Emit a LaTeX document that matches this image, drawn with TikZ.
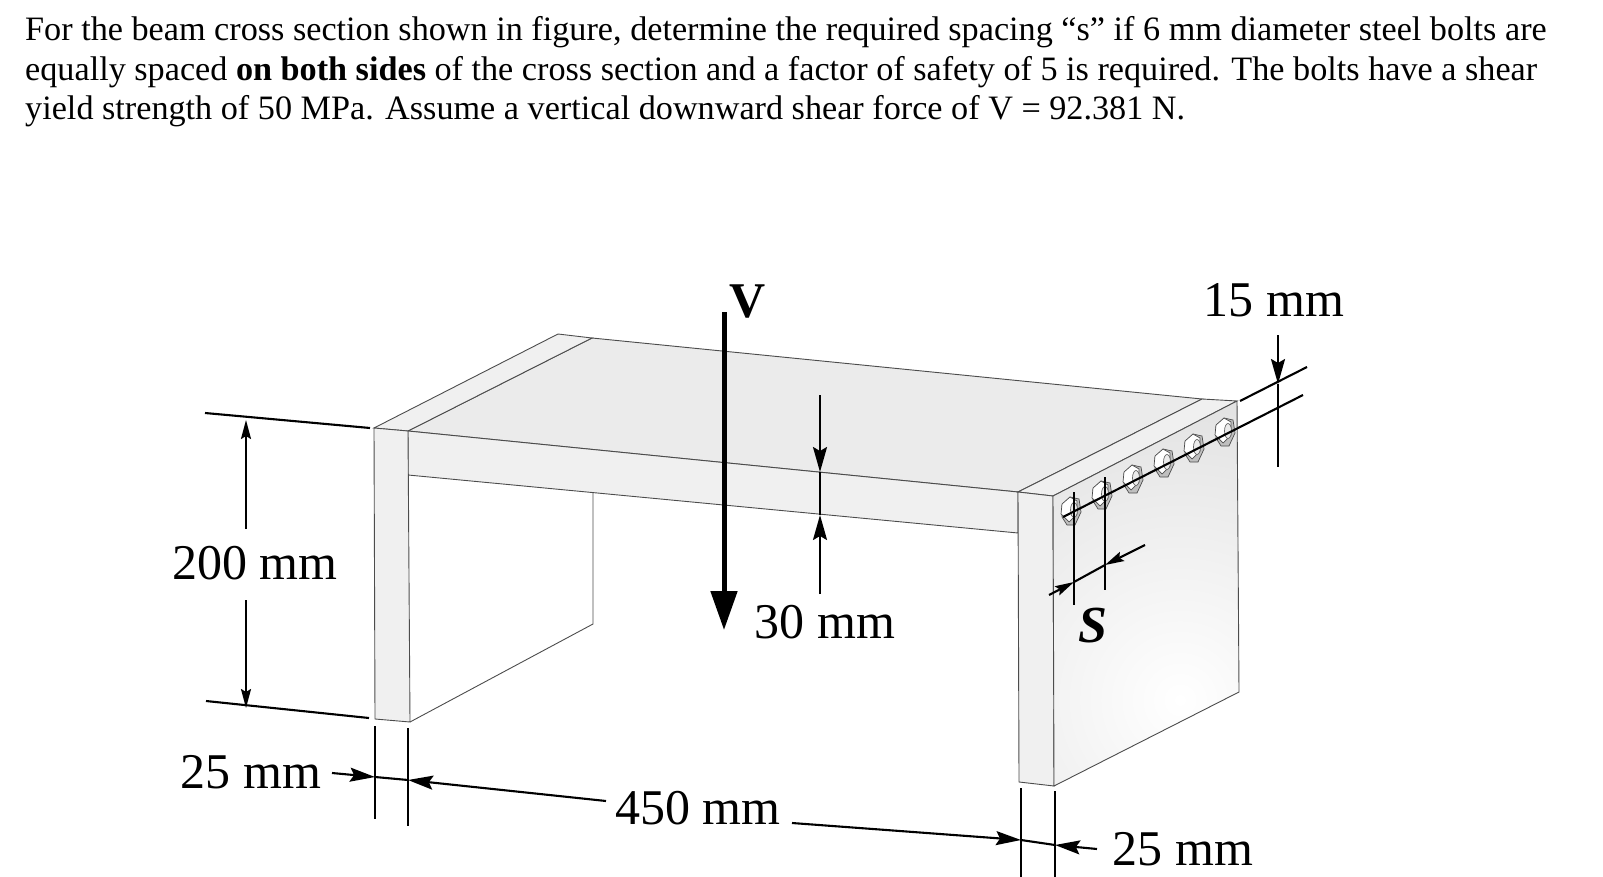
\documentclass[tikz,border=0pt]{standalone}
\usepackage{fontspec}
\setmainfont{Liberation Serif}
\usepackage{tikz}
\usetikzlibrary{arrows.meta}
\tikzset{
  edgeline/.style={draw=black!70, line width=0.9},
  dimline/.style={line width=2.1},
  dimtip/.style={-{Stealth[length=25pt,width=14pt,inset=4pt]}},
  smalltip/.style={-{Stealth[length=19pt,width=10pt,inset=3pt]}},
  dimlabel/.style={font=\fontsize{50}{50}\selectfont, inner sep=0},
  textline/.style={font=\fontsize{34.2}{39}\selectfont, anchor=base west, inner sep=0},
}
\begin{document}
\begin{tikzpicture}[x=1pt,y=-1pt]
  \useasboundingbox (0,0) rectangle (1603,877);
  % problem text
  \node[textline] (lineone) at (25,41) {For the beam cross section shown in figure, determine the required spacing “s” if 6 mm diameter steel bolts are};
  \node[textline] (linetwo) at (25,81) {equally spaced \textbf{on both sides} of the cross section and a factor of safety of 5 is required. The bolts have a shear};
  \node[textline] (linethree) at (25,120) {yield strength of 50 MPa. Assume a vertical downward shear force of V = 92.381 N.};
  % beam
  \filldraw[edgeline, fill=black!8] (408,431) -- (592,338) -- (1202,399) -- (1018,492) -- cycle;
  \filldraw[edgeline, fill=black!6] (374,428) -- (558,334) -- (592,338) -- (408,431) -- cycle;
  \filldraw[edgeline, fill=black!6] (408,431) -- (1018,492) -- (1018,533) -- (408,475) -- cycle;
  \filldraw[edgeline, fill=black!6] (1018,492) -- (1202,399) -- (1237,401) -- (1053,496) -- cycle;
  \filldraw[edgeline, fill=black!6] (374,428) -- (408,431) -- (410,722) -- (375,719) -- cycle;
  \filldraw[edgeline, fill=black!6] (1018,492) -- (1053,496) -- (1054,786) -- (1019,782) -- cycle;
  \draw[edgeline] (593,493) -- (593,624) -- (410,722);
  \begin{scope}
    \clip (1053,496) -- (1237,401) -- (1239,692) -- (1054,786) -- cycle;
    \fill[black!16] (1040,390) rectangle (1250,800);
    \shade[inner color=white, outer color=black!16] (1180,700) circle (430);
  \end{scope}
  \draw[edgeline] (1053,496) -- (1237,401) -- (1239,692) -- (1054,786) -- cycle;
  % bolts
  \foreach \x/\y in {1071/511, 1102/495, 1133/479, 1164/463, 1194/448, 1225/432} {
    \filldraw[black!70, line width=0.7, fill=black!25] (\x-9,\y+6) -- (\x-9,\y-6) -- (\x-1,\y-14) -- (\x+8,\y-12) -- (\x+10,\y+1) -- (\x+4,\y+14) -- (\x-4,\y+14) -- cycle;
    \filldraw[black!70, line width=0.7, fill=white] (\x-10,\y+3) -- (\x-9,\y-7) -- (\x-1,\y-14) -- (\x+6,\y-10) -- (\x+6,\y+3) -- (\x-2,\y+11) -- cycle;
    \draw[black!60, line width=0.7, fill=black!8] (\x+3,\y-1) ellipse (3.5 and 7.5);
  }
  % 200 mm
  \draw[dimline] (205,413) -- (370,428);
  \draw[dimline] (206,701) -- (369,718);
  \draw[dimline, smalltip] (246,529) -- (246,420);
  \draw[dimline, smalltip] (246,600) -- (246,708);
  \node[dimlabel] (heightlabel) at (255,563) {200 mm};
  % 25 mm left
  \draw[dimline] (375,726) -- (375,819);
  \draw[dimline] (408,728) -- (408,826);
  \draw[dimline, dimtip] (332,773) -- (375,777);
  \draw[dimline] (375,777) -- (408,780);
  \draw[dimline, dimtip] (606,801) -- (408,780);
  \node[dimlabel] (leftlabel) at (251,772) {25 mm};
  % 450 mm
  \node[dimlabel] (spanlabel) at (698,808) {450 mm};
  \draw[dimline, dimtip] (792,823) -- (1021,840);
  \draw[dimline] (1021,788) -- (1021,877);
  \draw[dimline] (1055,791) -- (1055,877);
  \draw[dimline] (1021,840) -- (1055,845);
  \draw[dimline, dimtip] (1097,849) -- (1055,845);
  \node[dimlabel] (rightlabel) at (1183,849) {25 mm};
  % shear force
  \draw[line width=5, -{Stealth[length=39pt,width=26pt,inset=0pt]}] (724,312) -- (724,630);
  \node[font=\fontsize{50}{50}\selectfont\bfseries, inner sep=0] (forcelabel) at (748,302) {V};
  % 30 mm
  \draw[dimline, dimtip] (820,395) -- (820,472);
  \draw[dimline] (820,472) -- (820,515);
  \draw[dimline, dimtip] (820,594) -- (820,515);
  \node[dimlabel] (depthlabel) at (825,622) {30 mm};
  % 15 mm
  \node[dimlabel] (flangelabel) at (1274,300) {15 mm};
  \draw[dimline] (1240,401) -- (1307,367);
  \draw[dimline] (1063,517) -- (1303,395);
  \draw[dimline, dimtip] (1278,335) -- (1278,384);
  \draw[dimline] (1278,384) -- (1278,467);
  % s
  \draw[dimline] (1074,492) -- (1074,605);
  \draw[dimline] (1105,477) -- (1105,590);
  \draw[dimline, smalltip] (1049,595) -- (1074,582);
  \draw[dimline] (1074,582) -- (1105,565);
  \draw[dimline, smalltip] (1145,545) -- (1105,565);
  \node[font=\fontsize{52}{52}\selectfont\bfseries\itshape, inner sep=0] (spacinglabel) at (1093,626) {S};
\end{tikzpicture}
\end{document}
